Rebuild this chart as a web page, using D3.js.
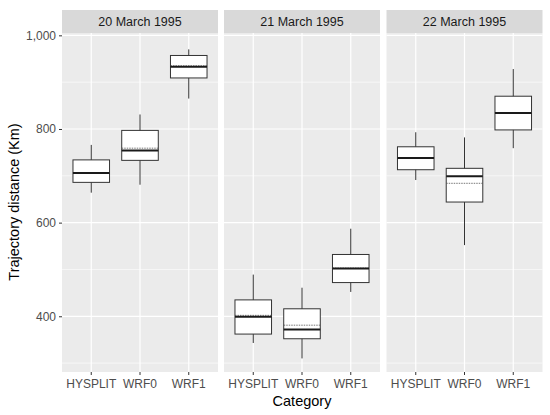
<!DOCTYPE html>
<html><head><meta charset="utf-8">
<script src="https://cdn.jsdelivr.net/npm/d3@7"></script>
<style>body{margin:0;background:#fff}svg{font-family:Arial,"Liberation Sans",sans-serif}</style>
</head><body><svg id="c" width="550" height="415"></svg>
<script>
const panels = ["20 March 1995","21 March 1995","22 March 1995"];
const categories = ["HYSPLIT","WRF0","WRF1"];
// [low, q1, median, q3, high, mean] per panel per category
const stats = [
  [[664,686,706,734,766,707],[681,733,754,797,831,759],[865,909,933,957,970,935]],
  [[343,362,399,435,489,402],[310,352,372,416,461,381],[452,472,502,532,587,503]],
  [[691,713,738,762,793,739],[552,644,699,716,782,684],[759,798,834,870,928,835]]
];
const yTicks = [400,600,800,1000];
const yMinor = [300,500,700,900];

const svg = d3.select("#c");
const plotTop = 33, plotBottom = 372;
const y = d3.scaleLinear().domain([281,1005]).range([plotBottom, plotTop]);
const panelX = [[62,218],[224,380],[386.5,542.5]];

panels.forEach((p,i)=>{
  const [x0,x1] = panelX[i];
  const g = svg.append("g");
  g.append("rect").attr("x",x0).attr("y",plotTop).attr("width",x1-x0).attr("height",plotBottom-plotTop).attr("fill","#ebebeb");
  g.append("rect").attr("x",x0).attr("y",10).attr("width",x1-x0).attr("height",plotTop-10).attr("fill","#d9d9d9");
  g.append("text").attr("x",(x0+x1)/2).attr("y",26).attr("text-anchor","middle").attr("font-size",12.5).attr("fill","#1a1a1a").text(p);
  yMinor.forEach(t=>g.append("line").attr("x1",x0).attr("x2",x1).attr("y1",y(t)).attr("y2",y(t)).attr("stroke","#fff").attr("stroke-width",0.6));
  yTicks.forEach(t=>g.append("line").attr("x1",x0).attr("x2",x1).attr("y1",y(t)).attr("y2",y(t)).attr("stroke","#fff").attr("stroke-width",1.2));
  const xs = d3.scalePoint().domain(categories).range([x0,x1]).padding(0.6);
  const bw = (x1-x0)/3.2*0.75;
  categories.forEach(c=>{
    const cx = xs(c);
    g.append("line").attr("x1",cx).attr("x2",cx).attr("y1",plotTop).attr("y2",plotBottom).attr("stroke","#fff").attr("stroke-width",1.2);
  });
  categories.forEach((c,j)=>{
    const cx = xs(c), s = stats[i][j];
    g.append("line").attr("x1",cx).attr("x2",cx).attr("y1",y(s[4])).attr("y2",y(s[0])).attr("stroke","#333").attr("stroke-width",1);
    g.append("rect").attr("x",cx-bw/2).attr("width",bw).attr("y",y(s[3])).attr("height",y(s[1])-y(s[3])).attr("fill","#fff").attr("stroke","#333").attr("stroke-width",1);
    g.append("line").attr("x1",cx-bw/2).attr("x2",cx+bw/2).attr("y1",y(s[5])).attr("y2",y(s[5])).attr("stroke","#555").attr("stroke-width",0.8).attr("stroke-dasharray","1.5,1");
    g.append("line").attr("x1",cx-bw/2).attr("x2",cx+bw/2).attr("y1",y(s[2])).attr("y2",y(s[2])).attr("stroke","#1a1a1a").attr("stroke-width",2);
    g.append("line").attr("x1",cx).attr("x2",cx).attr("y1",plotBottom).attr("y2",plotBottom+3).attr("stroke","#333");
    g.append("text").attr("x",cx).attr("y",plotBottom+16).attr("text-anchor","middle").attr("font-size",12).attr("fill","#4d4d4d").text(c);
  });
});
const ya = svg.append("g").attr("transform",`translate(62,0)`)
  .call(d3.axisLeft(y).tickValues(yTicks).tickSize(3).tickPadding(3));
ya.select(".domain").remove();
ya.selectAll("line").attr("stroke","#333");
ya.selectAll("text").attr("font-size",12).attr("fill","#4d4d4d").attr("font-family","Arial,'Liberation Sans',sans-serif");
svg.append("text").attr("x",302).attr("y",406).attr("text-anchor","middle").attr("font-size",14.5).attr("fill","#000").text("Category");
svg.append("text").attr("transform","translate(19,202) rotate(-90)").attr("text-anchor","middle").attr("font-size",14.5).attr("fill","#000").text("Trajectory distance (Km)");
</script></body></html>
